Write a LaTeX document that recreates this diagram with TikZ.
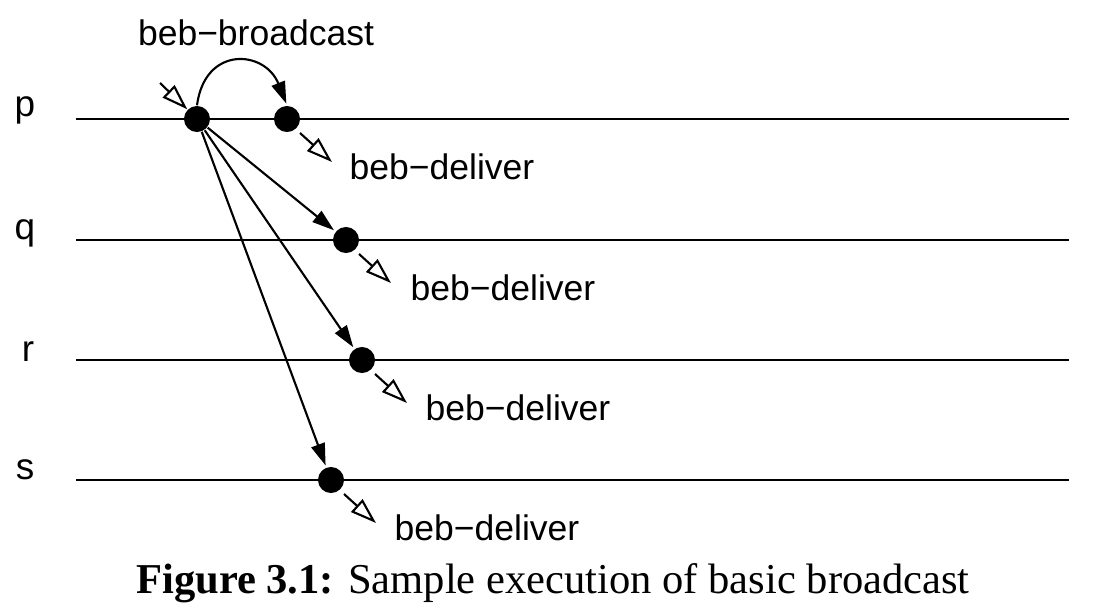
\documentclass[tikz,border=0pt]{standalone}
\usepackage{fontspec}
\setmainfont{Liberation Serif}
\setsansfont{Liberation Sans}
\usetikzlibrary{arrows.meta,calc}
\newcommand{\mydash}{\char"2212\relax}
\begin{document}
\begin{tikzpicture}[x=0.01cm,y=-0.01cm,
  proc/.style={line width=0.6pt},
  ev/.style={circle,fill=black,inner sep=0pt,minimum size=0.26cm},
  msg/.style={line width=0.6pt,-{Triangle[length=0.22cm,width=0.14cm]},shorten >=0.5pt},
  ind/.style={line width=0.6pt,-{Triangle[open,length=0.26cm,width=0.17cm]}},
  lbl/.style={font=\sffamily\fontsize{10.1}{12}\selectfont,inner sep=0pt},
  plbl/.style={font=\sffamily\fontsize{10.5}{12}\selectfont,inner sep=0pt}]
\useasboundingbox (0,0) rectangle (1093,615);
\foreach \n/\y in {p/119,q/240,r/360,s/480}{
  \coordinate (L\n) at (76,\y);
  \coordinate (R\n) at (1069,\y);
  \draw[proc] (L\n) -- (R\n);
}
\node[plbl] (np) at (25,110) {p};
\node[plbl] (nq) at (25,233) {q};
\node[plbl] (nr) at (28,352) {r};
\node[plbl] (ns) at (25,470) {s};
\node[ev] (b) at (197,119) {};
\node[ev] (dp) at (287,119) {};
\node[ev] (dq) at (346,240) {};
\node[ev] (dr) at (362,360) {};
\node[ev] (ds) at (331,480) {};
\node[lbl] (tb) at (256,33) {beb\mydash broadcast};
\coordinate (in) at (160,83);
\draw[ind] (in) -- (b.north west);
\draw[msg] (b.north) .. controls (205,45) and (265,50) .. (dp.north);
\draw[msg] (b) -- (dq);
\draw[msg] (b) -- (dr);
\draw[msg] (b) -- (ds);
\foreach \d/\lx/\ly in {dp/349/167,dq/410/288,dr/425/408,ds/394/528}{
  \coordinate (\d a) at ($(\d)+(13,14)$);
  \coordinate (\d b) at ($(\d)+(45,43)$);
  \draw[ind] (\d a) -- (\d b);
  \node[lbl,anchor=west] (\d t) at (\lx,\ly) {beb\mydash deliver};
}
\node[inner sep=0pt,font=\fontsize{12.1}{14}\selectfont] (cap) at (553,583) {\textbf{Figure 3.1:} Sample execution of basic broadcast};
\end{tikzpicture}
\end{document}
